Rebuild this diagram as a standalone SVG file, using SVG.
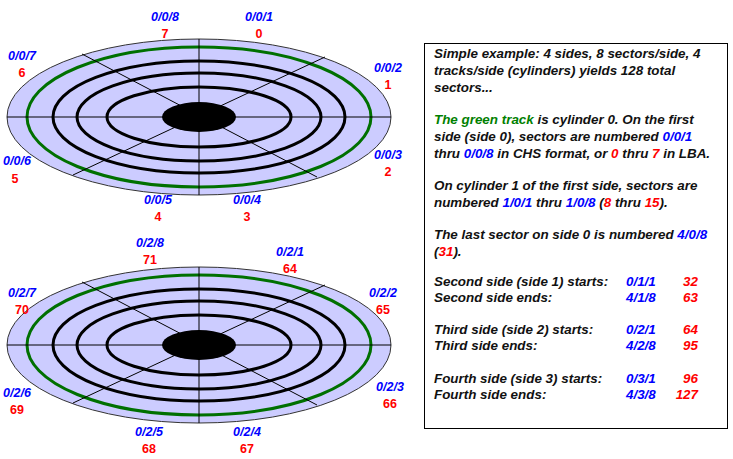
<svg xmlns="http://www.w3.org/2000/svg" width="733" height="459" viewBox="0 0 733 459">
<style>
text{font-family:"Liberation Sans",Arial,sans-serif;font-size:13.4px;font-weight:bold;font-style:italic}
.l{text-anchor:middle;font-size:12.5px}
.b{fill:#0000ff}.r{fill:#ff0000;font-style:normal}.g{fill:#008000}.k{fill:#111}
.tr{fill:none;stroke:#000;stroke-width:3}
.sp{stroke:#000;stroke-width:1}
</style>
<defs>
<g id="disk">
<ellipse cx="199" cy="117" rx="192" ry="78" fill="#ccccff" stroke="#333" stroke-width="1"/>
<ellipse cx="199" cy="117" rx="172" ry="70" fill="none" stroke="#007000" stroke-width="3"/>
<ellipse class="tr" cx="199" cy="117" rx="146" ry="56"/>
<ellipse class="tr" cx="199" cy="117" rx="122" ry="44"/>
<ellipse class="tr" cx="199" cy="117" rx="92" ry="30"/>
<line class="sp" x1="7" y1="117" x2="391" y2="117"/>
<line class="sp" x1="199" y1="39" x2="199" y2="195"/>
<line class="sp" x1="82" y1="54" x2="317" y2="177"/>
<line class="sp" x1="325" y1="57" x2="73" y2="175"/>
<ellipse cx="199" cy="117" rx="37" ry="15" fill="#000"/>
</g>
</defs>
<g id="disk-top"><use href="#disk"/>
<text class="l b" x="165" y="21">0/0/8</text><text class="l r" x="165" y="38">7</text>
<text class="l b" x="259" y="21">0/0/1</text><text class="l r" x="259" y="38">0</text>
<text class="l b" x="22" y="60">0/0/7</text><text class="l r" x="22" y="77">6</text>
<text class="l b" x="388" y="72">0/0/2</text><text class="l r" x="388" y="89">1</text>
<text class="l b" x="17" y="165">0/0/6</text><text class="l r" x="15" y="183">5</text>
<text class="l b" x="388" y="159">0/0/3</text><text class="l r" x="388" y="176">2</text>
<text class="l b" x="158" y="204">0/0/5</text><text class="l r" x="158" y="221">4</text>
<text class="l b" x="247" y="204">0/0/4</text><text class="l r" x="247" y="221">3</text>
</g>
<g id="disk-bottom"><use href="#disk" transform="translate(0,228)"/>
<text class="l b" x="150" y="247">0/2/8</text><text class="l r" x="150" y="264">71</text>
<text class="l b" x="290" y="256">0/2/1</text><text class="l r" x="290" y="273">64</text>
<text class="l b" x="22" y="297">0/2/7</text><text class="l r" x="22" y="314">70</text>
<text class="l b" x="383" y="297">0/2/2</text><text class="l r" x="383" y="314">65</text>
<text class="l b" x="17" y="397">0/2/6</text><text class="l r" x="17" y="414">69</text>
<text class="l b" x="390" y="391">0/2/3</text><text class="l r" x="390" y="408">66</text>
<text class="l b" x="149" y="436">0/2/5</text><text class="l r" x="149" y="453">68</text>
<text class="l b" x="247" y="436">0/2/4</text><text class="l r" x="247" y="453">67</text>
</g>
<g id="info">
<rect x="424.5" y="43.5" width="303" height="385" fill="#fff" stroke="#000" stroke-width="1"/>
<text class="k" x="434" y="58">Simple example: 4 sides, 8 sectors/side, 4</text>
<text class="k" x="434" y="75">tracks/side (cylinders) yields 128 total</text>
<text class="k" x="434" y="92">sectors...</text>
<text class="k" x="434" y="124"><tspan class="g">The green track</tspan> is cylinder 0. On the first</text>
<text class="k" x="434" y="141">side (side 0), sectors are numbered <tspan class="b">0/0/1</tspan></text>
<text class="k" x="434" y="158">thru <tspan class="b">0/0/8</tspan> in CHS format, or <tspan class="r" style="font-style:italic">0</tspan> thru <tspan class="r" style="font-style:italic">7</tspan> in LBA.</text>
<text class="k" x="434" y="190">On cylinder 1 of the first side, sectors are</text>
<text class="k" x="434" y="207">numbered <tspan class="b">1/0/1</tspan> thru <tspan class="b">1/0/8</tspan> (<tspan class="r" style="font-style:italic">8</tspan> thru <tspan class="r" style="font-style:italic">15</tspan>).</text>
<text class="k" x="434" y="239">The last sector on side 0 is numbered <tspan class="b">4/0/8</tspan></text>
<text class="k" x="434" y="256">(<tspan class="r" style="font-style:italic">31</tspan>).</text>
<text class="k" x="434" y="286">Second side (side 1) starts:</text><text class="b" x="626" y="286">0/1/1</text><text class="r" style="font-style:italic;text-anchor:end" x="698" y="286">32</text>
<text class="k" x="434" y="302">Second side ends:</text><text class="b" x="626" y="302">4/1/8</text><text class="r" style="font-style:italic;text-anchor:end" x="698" y="302">63</text>
<text class="k" x="434" y="334">Third side (side 2) starts:</text><text class="b" x="626" y="334">0/2/1</text><text class="r" style="font-style:italic;text-anchor:end" x="698" y="334">64</text>
<text class="k" x="434" y="350">Third side ends:</text><text class="b" x="626" y="350">4/2/8</text><text class="r" style="font-style:italic;text-anchor:end" x="698" y="350">95</text>
<text class="k" x="434" y="383">Fourth side (side 3) starts:</text><text class="b" x="626" y="383">0/3/1</text><text class="r" style="font-style:italic;text-anchor:end" x="698" y="383">96</text>
<text class="k" x="434" y="399">Fourth side ends:</text><text class="b" x="626" y="399">4/3/8</text><text class="r" style="font-style:italic;text-anchor:end" x="698" y="399">127</text>
</g>
</svg>
